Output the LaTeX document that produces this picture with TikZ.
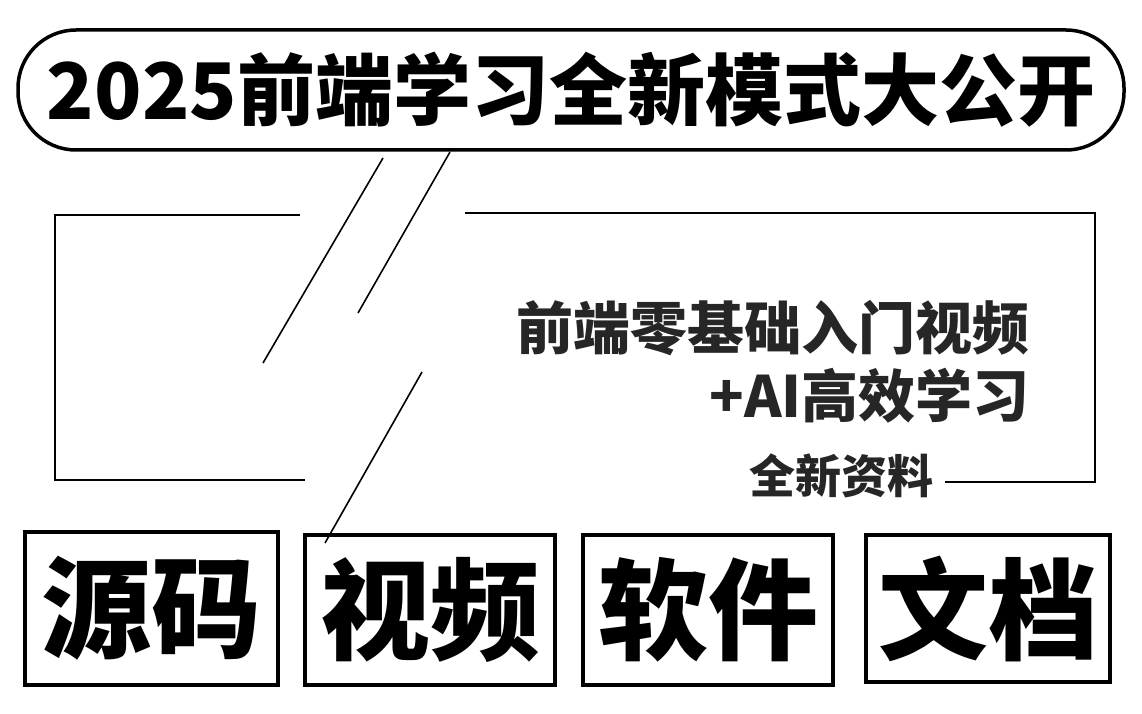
\documentclass[tikz,border=0pt]{standalone}
\usepackage{fontspec}
\newfontfamily\cjk{Noto Sans CJK SC}
\begin{document}
\begin{tikzpicture}[x=1pt,y=-1pt,line width=2pt,
  bx/.style={draw,line width=3.5pt,inner sep=0pt,font=\cjk\bfseries\fontsize{110}{110}\selectfont},
  thin/.style={line width=1.6pt}]
\useasboundingbox (0,0) rectangle (1142,714);
\fill[white] (0,0) rectangle (1142,714);
\node[draw,line width=3.5pt,rounded corners=58pt,minimum width=1106pt,minimum height=120pt,inner sep=0pt,font=\cjk\bfseries\fontsize{78}{78}\selectfont] (title) at (571,90) {2025前端学习全新模式大公开};
\draw[thin] (300,215) -- (55,215) -- (55,480) -- (305,480);
\draw[thin] (465,213) -- (1095,213) -- (1095,482) -- (945,482);
\coordinate (d1a) at (383,158); \coordinate (d1b) at (263,363);
\coordinate (d2a) at (450,152); \coordinate (d2b) at (358,313);
\coordinate (d3a) at (422,372); \coordinate (d3b) at (325,543);
\draw[thin] (d1a) -- (d1b); \draw[thin] (d2a) -- (d2b); \draw[thin] (d3a) -- (d3b);
\node[anchor=east,font=\cjk\bfseries\fontsize{57}{57}\selectfont,text=black!85] (t1) at (1034,328) {前端零基础入门视频};
\node[anchor=east,font=\cjk\bfseries\fontsize{57}{57}\selectfont,text=black!85] (t2) at (1034,396) {+AI高效学习};
\node[anchor=east,font=\cjk\bfseries\fontsize{46}{46}\selectfont,text=black!85] (t3) at (938,476) {全新资料};
\node[bx,minimum width=253pt,minimum height=153pt] (b1) at (151.5,608.5) {源码};
\node[bx,minimum width=250pt,minimum height=150pt] (b2) at (430,610) {视频};
\node[bx,minimum width=250pt,minimum height=150pt] (b3) at (708,610) {软件};
\node[bx,minimum width=244pt,minimum height=147pt] (b4) at (988,608.5) {文档};
\end{tikzpicture}
\end{document}
